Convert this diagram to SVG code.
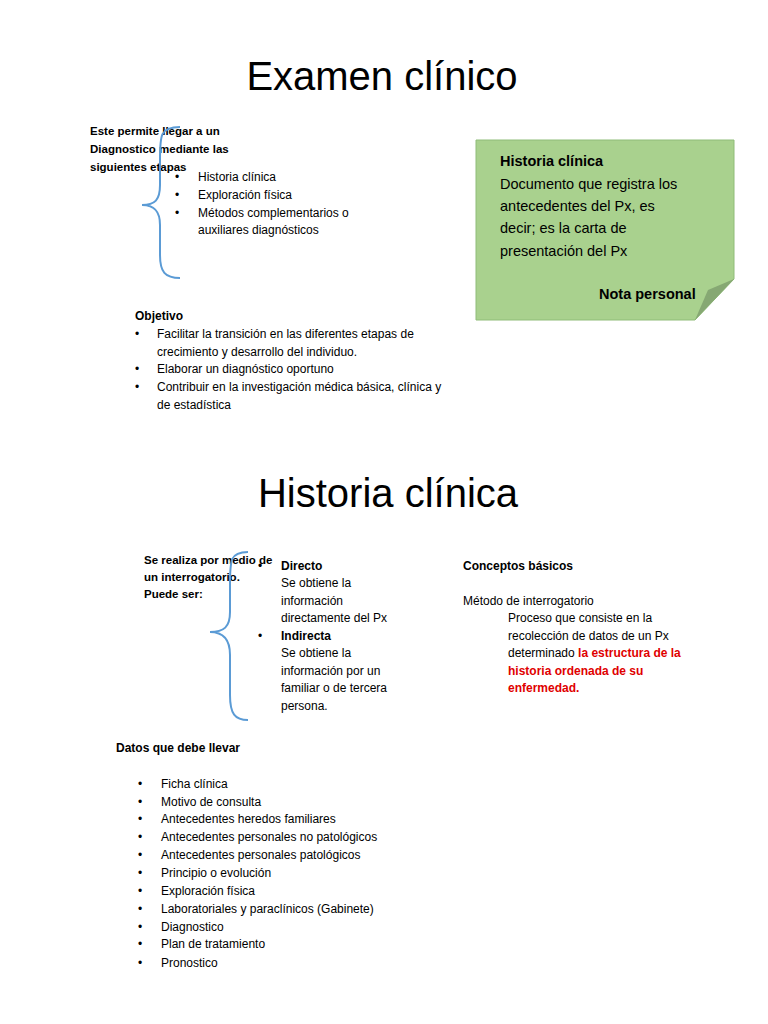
<svg xmlns="http://www.w3.org/2000/svg" width="768" height="1024" viewBox="0 0 768 1024">
<style>
text{font-family:"Liberation Sans",Arial,sans-serif;fill:#000}
.t{font-size:40px}
.s{font-size:12px}
.b{font-weight:bold}
.i{font-size:11.5px;font-weight:bold}
.n{font-size:14.5px}
.br{fill:none;stroke:#5b9bd5;stroke-width:2}
.red{fill:#e00000}
</style>
<rect width="768" height="1024" fill="#fff"/>
<g id="title1"><text class="t" x="382" y="90" text-anchor="middle">Examen clínico</text></g>
<g id="intro1">
<text x="90" y="135" class="i">Este permite llegar a un</text>
<text x="90" y="153" class="i">Diagnostico mediante las</text>
<text x="90" y="171" class="i">siguientes etapas</text>
</g>
<path id="brace1" class="br" d="M180,127 C160,127 160,135 160,160 L160,185 C160,200 155,205 142,205 C155,205 160,212 160,225 L160,255 C160,272 165,278 180,278"/>
<g id="etapas">
<text x="175" y="181" class="s">•</text><text x="198" y="181" class="s">Historia clínica</text>
<text x="175" y="199" class="s">•</text><text x="198" y="199" class="s">Exploración física</text>
<text x="175" y="217" class="s">•</text><text x="198" y="217" class="s">Métodos complementarios o</text>
<text x="198" y="234" class="s">auxiliares diagnósticos</text>
</g>
<g id="nota">
<path d="M476,140 L734,140 L734,279 L695,320 L476,320 Z" fill="#a9d18e" stroke="#8fbc78"/>
<path d="M695,320 L708,290 L734,279 Z" fill="#86a873"/>
<text x="500" y="166" class="n b">Historia clínica</text>
<text x="500" y="189" class="n">Documento que registra los</text>
<text x="500" y="211" class="n">antecedentes del Px, es</text>
<text x="500" y="233" class="n">decir; es la carta de</text>
<text x="500" y="256" class="n">presentación del Px</text>
<text x="599" y="299" class="n b">Nota personal</text>
</g>
<g id="objetivo">
<text x="135" y="320" class="s b">Objetivo</text>
<text x="135" y="338" class="s">•</text><text x="157" y="338" class="s">Facilitar la transición en las diferentes etapas de</text>
<text x="157" y="356" class="s">crecimiento y desarrollo del individuo.</text>
<text x="135" y="373" class="s">•</text><text x="157" y="373" class="s">Elaborar un diagnóstico oportuno</text>
<text x="135" y="391" class="s">•</text><text x="157" y="391" class="s">Contribuir en la investigación médica básica, clínica y</text>
<text x="157" y="409" class="s">de estadística</text>
</g>
<g id="title2"><text class="t" x="388" y="507" text-anchor="middle">Historia clínica</text></g>
<g id="intro2">
<text x="144" y="564" class="i">Se realiza por medio de</text>
<text x="144" y="581" class="i">un interrogatorio.</text>
<text x="144" y="598" class="i">Puede ser:</text>
</g>
<path id="brace2" class="br" d="M248,552 C230,552 230,560 230,585 L230,612 C230,627 224,632 210,632 C224,632 230,640 230,655 L230,695 C230,714 235,720 248,720"/>
<g id="tipos">
<text x="258" y="570" class="s">•</text><text x="281" y="570" class="s b">Directo</text>
<text x="281" y="587" class="s">Se obtiene la</text>
<text x="281" y="605" class="s">información</text>
<text x="281" y="622" class="s">directamente del Px</text>
<text x="258" y="640" class="s">•</text><text x="281" y="640" class="s b">Indirecta</text>
<text x="281" y="657" class="s">Se obtiene la</text>
<text x="281" y="675" class="s">información por un</text>
<text x="281" y="692" class="s">familiar o de tercera</text>
<text x="281" y="710" class="s">persona.</text>
</g>
<g id="conceptos">
<text x="463" y="570" class="s b">Conceptos básicos</text>
<text x="463" y="605" class="s">Método de interrogatorio</text>
<text x="508" y="622" class="s">Proceso que consiste en la</text>
<text x="508" y="640" class="s">recolección de datos de un Px</text>
<text x="508" y="657" class="s">determinado <tspan class="red b">la estructura de la</tspan></text>
<text x="508" y="675" class="s red b">historia ordenada de su</text>
<text x="508" y="692" class="s red b">enfermedad.</text>
</g>
<g id="datos">
<text x="116" y="752" class="s b">Datos que debe llevar</text>
<g class="s">
<text x="138" y="788">•</text><text x="161" y="788">Ficha clínica</text>
<text x="138" y="806">•</text><text x="161" y="806">Motivo de consulta</text>
<text x="138" y="823">•</text><text x="161" y="823">Antecedentes heredos familiares</text>
<text x="138" y="841">•</text><text x="161" y="841">Antecedentes personales no patológicos</text>
<text x="138" y="859">•</text><text x="161" y="859">Antecedentes personales patológicos</text>
<text x="138" y="877">•</text><text x="161" y="877">Principio o evolución</text>
<text x="138" y="895">•</text><text x="161" y="895">Exploración física</text>
<text x="138" y="913">•</text><text x="161" y="913">Laboratoriales y paraclínicos (Gabinete)</text>
<text x="138" y="931">•</text><text x="161" y="931">Diagnostico</text>
<text x="138" y="948">•</text><text x="161" y="948">Plan de tratamiento</text>
<text x="138" y="967">•</text><text x="161" y="967">Pronostico</text>
</g>
</g>
</svg>
